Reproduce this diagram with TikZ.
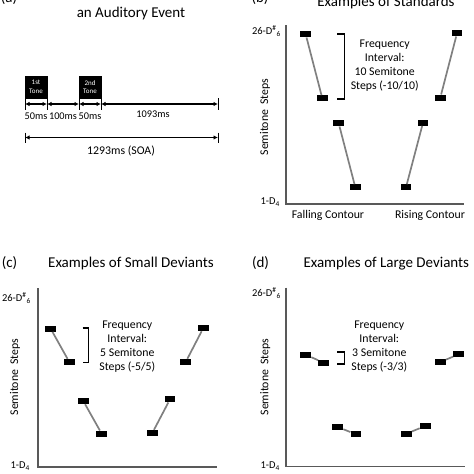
\documentclass[tikz,border=0pt]{standalone}
\usepackage{fontspec}
\setmainfont{Carlito}
\usetikzlibrary{arrows.meta}
\begin{document}
\begin{tikzpicture}[x=1pt,y=-1pt,
  pitch/.style={fill=black, draw=none, minimum width=10.8pt, minimum height=6pt, inner sep=0pt},
  link/.style={draw=black!50, line width=1.7pt},
  axisline/.style={draw=black!65, line width=1.6pt},
  brk/.style={draw=black, line width=1.6pt},
  lbl/.style={font=\fontsize{11.8}{14}\selectfont, inner sep=0pt},
  smalllbl/.style={font=\fontsize{10.3}{12}\selectfont, inner sep=0pt},
  ticklbl/.style={font=\fontsize{10.5}{12}\selectfont, inner sep=0pt, anchor=east},
  ttl/.style={font=\fontsize{15}{17}\selectfont, inner sep=0pt},
  tonebox/.style={fill=black, draw=black, minimum width=22pt, minimum height=22pt, inner sep=0pt, text=white, align=center, font=\fontsize{7}{8.5}\selectfont},
  dim/.style={draw=black, line width=1.3pt, {Latex[length=4.5pt,width=4.5pt]}-{Latex[length=4.5pt,width=4.5pt]}},
  tickmark/.style={draw=black, line width=1pt}
]
\useasboundingbox (0,0) rectangle (474,474);
\clip (0,0) rectangle (474,474);

% ---------------- panel (a)
\node[ttl] (la) at (9,-2) {(a)};
\node[ttl] (ta) at (131,13) {an Auditory Event};
\node[tonebox] (tone1) at (36,87) {1st\\Tone};
\node[tonebox] (tone2) at (90,87) {2nd\\Tone};
\coordinate (p0) at (25,104);
\coordinate (p1) at (47,104);
\coordinate (p2) at (79,104);
\coordinate (p3) at (101,104);
\coordinate (p4) at (218,104);
\foreach \c in {p0,p1,p2,p3,p4} \draw[tickmark] ([yshift=6pt]\c) -- ([yshift=-6pt]\c);
\draw[dim] (p0) -- (p1);
\draw[dim] (p1) -- (p2);
\draw[dim] (p2) -- (p3);
\draw[dim] (p3) -- (p4);
\node[smalllbl] (d1) at (36,116) {50ms};
\node[smalllbl] (d2) at (63,116) {100ms};
\node[smalllbl] (d3) at (90,116) {50ms};
\node[smalllbl] (d4) at (153,114) {1093ms};
\coordinate (s0) at (25,137.5);
\coordinate (s1) at (218,137.5);
\draw[tickmark] ([yshift=5pt]s0) -- ([yshift=-5pt]s0);
\draw[tickmark] ([yshift=5pt]s1) -- ([yshift=-5pt]s1);
\draw[dim] (s0) -- (s1);
\node[lbl] (soa) at (121,151) {1293ms (SOA)};

% ---------------- panel (b)
\node[ttl] (lb) at (260,-2) {(b)};
\node[ttl] (tb) at (386,2) {Examples of Standards};
\coordinate (bo) at (286,204);
\coordinate (btop) at (286,25);
\coordinate (bend) at (464,204);
\draw[axisline] (btop) -- (bo) -- (bend);
\node[ticklbl] (bhi) at (281,31) {26-D\textsuperscript{\#}\textsubscript{6}};
\node[ticklbl] (blo) at (280,202) {1-D\textsubscript{4}};
\node[lbl, rotate=90] (bsy) at (265,117) {Semitone\ \ Steps};
\node[lbl] (bfall) at (328,215) {Falling Contour};
\node[lbl] (brise) at (430,215) {Rising Contour};
\node[pitch] (b1) at (305.7,34.3) {};
\node[pitch] (b2) at (322.3,98.3) {};
\node[pitch] (b3) at (338.7,123.3) {};
\node[pitch] (b4) at (355.3,187.3) {};
\node[pitch] (b5) at (406,187.3) {};
\node[pitch] (b6) at (423,122.7) {};
\node[pitch] (b7) at (440.3,97.7) {};
\node[pitch] (b8) at (457,33.3) {};
\draw[link] (b1) -- (b2);
\draw[link] (b3) -- (b4);
\draw[link] (b5) -- (b6);
\draw[link] (b7) -- (b8);
\coordinate (bk1) at (337,34);
\coordinate (bk2) at (337,98.7);
\draw[brk] (bk1) -- ++(7.3,0) |- (bk2);
\node[lbl, align=center] (btext) at (384.7,66) {Frequency\\Interval:\\10 Semitone\\Steps (-10/10)};

% ---------------- panel (c)
\node[ttl] (lc) at (9.5,263) {(c)};
\node[ttl] (tc) at (131,263) {Examples of Small Deviants};
\coordinate (co) at (37.7,467);
\coordinate (ctop) at (37.7,288);
\coordinate (cend) at (217,467);
\draw[axisline] (ctop) -- (co) -- (cend);
\node[ticklbl] (chi) at (31,298) {26-D\textsuperscript{\#}\textsubscript{6}};
\node[ticklbl] (clo) at (30,466) {1-D\textsubscript{4}};
\node[lbl, rotate=90] (csy) at (15,377) {Semitone\ \ Steps};
\node[pitch] (c1) at (50.7,328.7) {};
\node[pitch] (c2) at (69.3,362) {};
\node[pitch] (c3) at (83.3,401) {};
\node[pitch] (c4) at (101.7,433.7) {};
\node[pitch] (c5) at (152.3,433) {};
\node[pitch] (c6) at (170,399.3) {};
\node[pitch] (c7) at (185.7,362) {};
\node[pitch] (c8) at (203.3,328) {};
\draw[link] (c1) -- (c2);
\draw[link] (c3) -- (c4);
\draw[link] (c5) -- (c6);
\draw[link] (c7) -- (c8);
\coordinate (ck1) at (82.7,328);
\coordinate (ck2) at (82.7,362.3);
\draw[brk] (ck1) -- ++(5.6,0) |- (ck2);
\node[lbl, align=center] (ctext) at (127.3,346.7) {Frequency\\Interval:\\5 Semitone\\Steps (-5/5)};

% ---------------- panel (d)
\node[ttl] (ld) at (260.5,263.5) {(d)};
\node[ttl] (td) at (386.3,264) {Examples of Large Deviants};
\coordinate (do) at (286,466.3);
\coordinate (dtop) at (286,287.7);
\coordinate (dend) at (465,466.3);
\draw[axisline] (dtop) -- (do) -- (dend);
\node[ticklbl] (dhi) at (281,293) {26-D\textsuperscript{\#}\textsubscript{6}};
\node[ticklbl] (dlo) at (280,466) {1-D\textsubscript{4}};
\node[lbl, rotate=90] (dsy) at (265.3,377) {Semitone\ \ Steps};
\node[pitch] (e1) at (305.7,354.7) {};
\node[pitch] (e2) at (323.7,362.7) {};
\node[pitch] (e3) at (337.7,427) {};
\node[pitch] (e4) at (356,434.3) {};
\node[pitch] (e5) at (406.3,433.7) {};
\node[pitch] (e6) at (425.3,426) {};
\node[pitch] (e7) at (440.3,362) {};
\node[pitch] (e8) at (458.7,354.3) {};
\draw[link] (e1) -- (e2);
\draw[link] (e3) -- (e4);
\draw[link] (e5) -- (e6);
\draw[link] (e7) -- (e8);
\coordinate (dk1) at (337,352);
\coordinate (dk2) at (337,363.7);
\draw[brk] (dk1) -- ++(7.3,0) |- (dk2);
\node[lbl, align=center] (dtext) at (379.3,346.7) {Frequency\\Interval:\\3 Semitone\\Steps (-3/3)};
\end{tikzpicture}
\end{document}
